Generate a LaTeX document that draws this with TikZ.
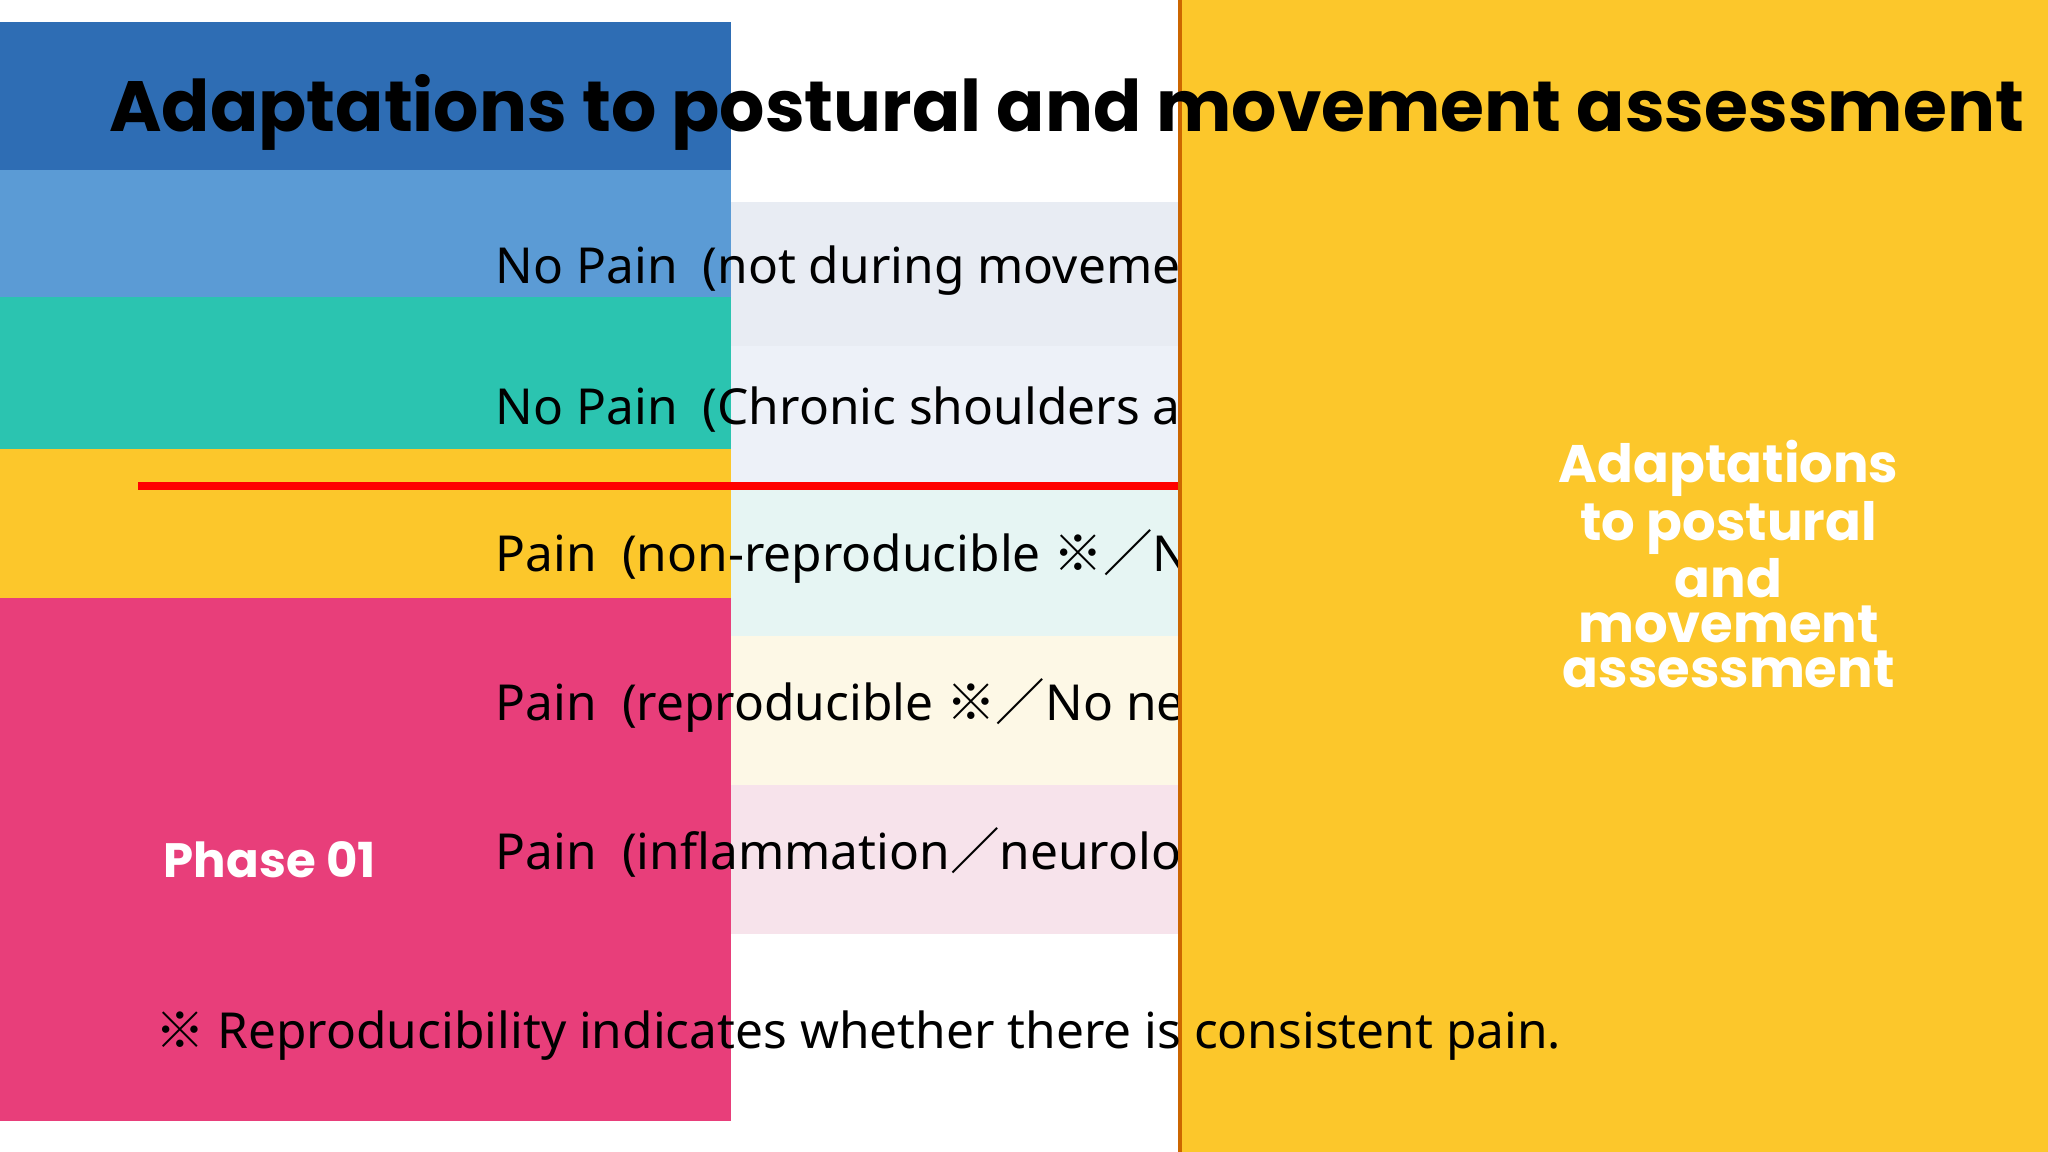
\documentclass[tikz,border=0pt]{standalone}
\usepackage{fontspec}
\setmainfont{Noto Sans}
\newfontfamily\headfont{Poppins}
\newfontfamily\cjk{Noto Sans CJK JP}
\usetikzlibrary{positioning}
\definecolor{phaseA}{HTML}{E83E7A}
\definecolor{phaseB}{HTML}{FCC72B}
\definecolor{phaseC}{HTML}{2BC4B0}
\definecolor{phaseD}{HTML}{5B9BD5}
\definecolor{phaseE}{HTML}{2E6DB4}
\definecolor{bandA}{HTML}{F7E3EB}
\definecolor{bandB}{HTML}{FDF8E6}
\definecolor{bandC}{HTML}{E6F5F3}
\definecolor{bandD}{HTML}{EDF1F8}
\definecolor{bandE}{HTML}{E8ECF3}
\definecolor{fitcol}{HTML}{4FC9BF}
\definecolor{rehabcol}{HTML}{EA5F91}
\definecolor{adaptcol}{HTML}{FCC72B}
\begin{document}
\begin{tikzpicture}[x=0.01cm,y=-0.01cm]
\tikzset{
  phasebox/.style={minimum width=201,minimum height=#1,inner sep=0pt,
    font=\headfont\bfseries\fontsize{10.5pt}{11pt}\selectfont,text=white},
  rowtext/.style={anchor=west,inner sep=0pt,font=\fontsize{10.8pt}{12pt}\selectfont},
  sidebox/.style={minimum width=239,inner sep=0pt,text=white,
    font=\headfont\bfseries\fontsize{9.5pt}{10pt}\selectfont}
}
\useasboundingbox (0,0) rectangle (1568,882);
\fill[white] (0,0) rectangle (1568,882);
\fill[black!3] (1568,0) -- (1300,0) -- (1568,400) -- cycle;
% bands
\fill[bandE] (307,155) rectangle (1478,265);
\fill[bandD] (307,265) rectangle (1478,372);
\fill[bandC] (307,372) rectangle (1478,487);
\fill[bandB] (307,487) rectangle (1478,601);
\fill[bandA] (307,601) rectangle (1478,715);
% phases
\node[phasebox=110,fill=phaseE] (p5) at (206.5,210) {Phase 05};
\node[phasebox=107,fill=phaseD] (p4) at (206.5,318.5) {Phase 04};
\node[phasebox=115,fill=phaseC] (p3) at (206.5,429.5) {Phase 03};
\node[phasebox=114,fill=phaseB] (p2) at (206.5,544) {Phase 02};
\node[phasebox=114,fill=phaseA] (p1) at (206.5,658) {Phase 01};
\draw[red,line width=1.8pt] (106,372) -- (1478,372);
% row texts
\node[rowtext] (t5) at (379,207) {\textbf{No Pain}\enspace(not during movement pain)};
\node[rowtext] (t4) at (379,315) {\textbf{No Pain}\enspace(Chronic shoulders and Low back pain)};
\node[rowtext] (t3) at (379,426) {\textbf{Pain}\enspace(non-reproducible {\cjk ※／}No neurological)};
\node[rowtext] (t2) at (379,540) {\textbf{Pain}\enspace(reproducible {\cjk ※／}No neurological)};
\node[rowtext] (t1) at (379,654) {\textbf{Pain}\enspace(inflammation{\cjk ／}neurological)};
% right column
\node[sidebox,minimum height=107,fill=fitcol] (fit) at (1323.5,208.5) {};
\node[sidebox,minimum height=114,fill=rehabcol] (rehab) at (1323.5,658) {};
\node[text=white,font=\headfont\bfseries\fontsize{9.5pt}{10pt}\selectfont] at (1323.5,224) {FITNESS};
\node[text=white,font=\headfont\bfseries\fontsize{9.5pt}{10pt}\selectfont] at (1323.5,665) {Rehabilitation};
\fill[black!30] (1206,266) rectangle (1447,604);
\node[sidebox,minimum height=339,fill=adaptcol,draw=orange!80!black,line width=0.8pt] (adapt) at (1323.5,431.5) {};
\node[text=white,align=center,font=\headfont\bfseries\fontsize{11.5pt}{9.8pt}\selectfont] (adtext) at (1323.5,432)
  {Adaptations\\to postural\\and\\movement\\assessment};
% title and note
\node[anchor=west,inner sep=0pt,font=\headfont\bfseries\fontsize{15.5pt}{16pt}\selectfont] (title) at (83,86)
  {Adaptations to postural and movement assessment};
\node[anchor=west,inner sep=0pt,font=\fontsize{10.8pt}{12pt}\selectfont] (note) at (118,793)
  {{\cjk ※} Reproducibility indicates whether there is consistent pain.};
\end{tikzpicture}
\end{document}
